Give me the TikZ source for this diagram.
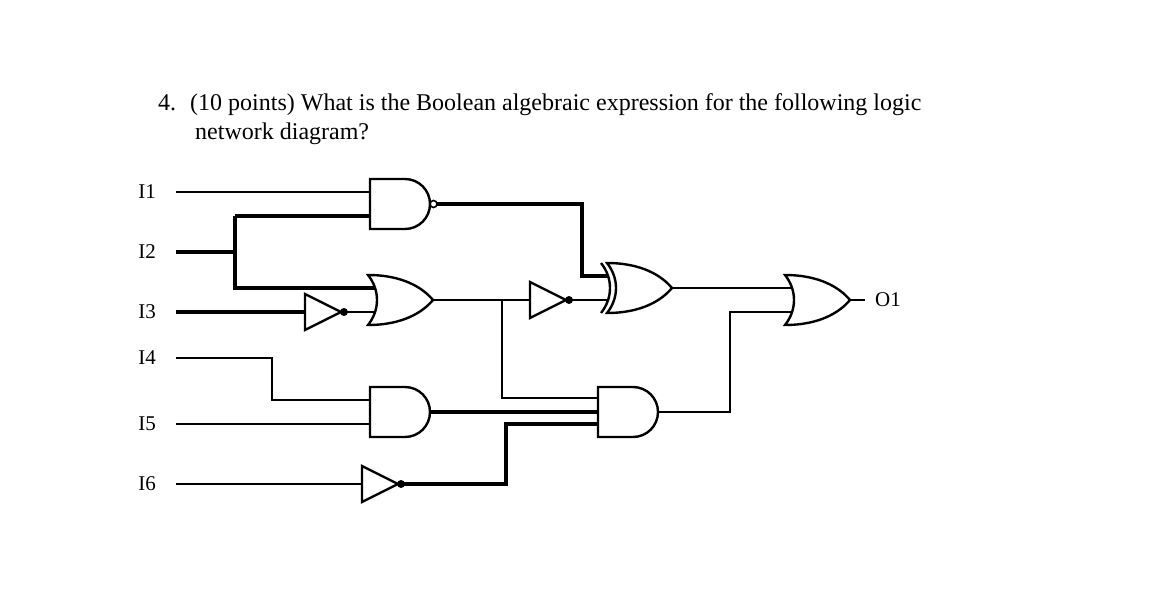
\documentclass[tikz,border=0pt]{standalone}
\usepackage{fontspec}
\setmainfont{Liberation Serif}
\usetikzlibrary{positioning}

\begin{document}
\begin{tikzpicture}[x=1pt,y=-1pt,line join=miter,
  wire/.style={line width=2.2pt},
  bold wire/.style={line width=3.4pt},
  gate/.style={line width=2.4pt},
  lbl/.style={font=\fontsize{21}{21}\selectfont,inner sep=0pt},
  andg/.pic={
    \draw[gate] (0,-25) -- (35,-25) arc[start angle=-90,end angle=90,radius=25] -- (0,25) -- cycle;
    \coordinate (-in1) at (0,-12); \coordinate (-in2) at (0,12);
    \coordinate (-out) at (60,0);},
  and3g/.pic={
    \draw[gate] (0,-25) -- (35,-25) arc[start angle=-90,end angle=90,radius=25] -- (0,25) -- cycle;
    \coordinate (-in1) at (0,-14); \coordinate (-in2) at (0,0); \coordinate (-in3) at (0,12);
    \coordinate (-out) at (60,0);},
  nandg/.pic={
    \draw[gate] (0,-25) -- (35,-25) arc[start angle=-90,end angle=90,radius=25] -- (0,25) -- cycle;
    \draw[line width=1.6pt] (63.5,0) circle[radius=3.5];
    \coordinate (-in1) at (0,-12); \coordinate (-in2) at (0,12);
    \coordinate (-out) at (67,0);},
  org/.pic={
    \draw[gate] (0,-25) .. controls (12,-10) and (12,10) .. (0,25)
      .. controls (35,25) and (55,12) .. (65,0) .. controls (55,-12) and (35,-25) .. cycle;
    \coordinate (-in1) at (7,-12); \coordinate (-in2) at (7,12);
    \coordinate (-out) at (65,0);},
  xorg/.pic={
    \draw[gate] (0,-25) .. controls (12,-10) and (12,10) .. (0,25)
      .. controls (35,25) and (55,12) .. (65,0) .. controls (55,-12) and (35,-25) .. cycle;
    \draw[gate] (-6,-25) .. controls (6,-10) and (6,10) .. (-6,25);
    \coordinate (-in1) at (1,-12); \coordinate (-in2) at (1,12);
    \coordinate (-out) at (65,0);},
  notg/.pic={
    \draw[gate] (0,-18) -- (36,0) -- (0,18) -- cycle;
    \fill (39,0) circle[radius=4];
    \coordinate (-in) at (0,0); \coordinate (-out) at (42,0);}
]
\useasboundingbox (0,0) rectangle (1176,597);

% question
\node[anchor=base west,inner sep=0pt,font=\fontsize{24}{24}\selectfont] (q1) at (158,110)
  {4.\hspace{14pt}(10 points) What is the Boolean algebraic expression for the following logic};
\node[anchor=base west,inner sep=0pt,font=\fontsize{24}{24}\selectfont] (q2) at (195,139)
  {network diagram?};

% inputs
\foreach \n/\y in {1/192,2/252,3/312,4/358,5/424,6/484}{
  \coordinate (i\n) at (176,\y);
  \node[lbl,left=20pt of i\n] (l\n) {I\n};
}

% gates
\pic (nand1) at (370,204) {nandg};
\pic (not1) at (305,312) {notg};
\pic (or1) at (368,300) {org};
\pic (not2) at (530,300) {notg};
\pic (xor1) at (607,288) {xorg};
\pic (and2) at (370,412) {andg};
\pic (not3) at (362,484) {notg};
\pic (and3) at (598,412) {and3g};
\pic (or2) at (785,300) {org};

\coordinate (j2) at (235,252);
\coordinate (j3) at (502,300);
\coordinate (k1) at (582,204);
\coordinate (k2) at (506,424);
\coordinate (k3) at (730,312);
\coordinate (k4) at (272,400);
\coordinate (o1) at (865,300);
\node[lbl,right=10pt of o1] (lo1) {O1};

% wires
\draw[wire] (i1) -- (nand1-in1);
\draw[bold wire] (i2) -- (j2);
\draw[bold wire] (nand1-in2 -| j2) -- (nand1-in2);
\draw[bold wire] (nand1-in2 -| j2) -- (or1-in1 -| j2) -- (or1-in1);
\draw[bold wire] (i3) -- (not1-in);
\draw[wire] (not1-out) -- (or1-in2);
\draw[wire] (or1-out) -- (not2-in);
\draw[wire] (j3) |- (and3-in1);
\draw[bold wire] (nand1-out) -- (k1) |- (xor1-in1);
\draw[wire] (not2-out) -- (xor1-in2);
\draw[wire] (xor1-out) -- (or2-in1);
\draw[wire] (i4) -| (k4) -- (and2-in1);
\draw[wire] (i5) -- (and2-in2);
\draw[bold wire] (and2-out) -- (and3-in2);
\draw[wire] (i6) -- (not3-in);
\draw[bold wire] (not3-out) -| (k2) -- (and3-in3);
\draw[wire] (and3-out) -| (k3) -- (or2-in2);
\draw[wire] (or2-out) -- (o1);
\end{tikzpicture}
\end{document}
